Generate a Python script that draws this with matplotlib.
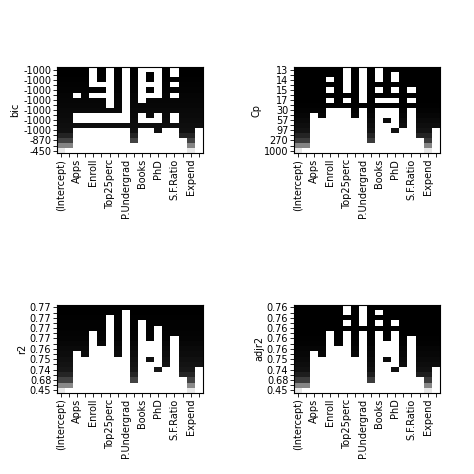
import numpy as np
import matplotlib
matplotlib.use("Agg")
import matplotlib.pyplot as plt

columns = ['(Intercept)', 'PrivateYes', 'Apps', 'Accept', 'Enroll', 'Top10perc',
           'Top25perc', 'F.Undergrad', 'P.Undergrad', 'Room.Board', 'Books',
           'Personal', 'PhD', 'Terminal', 'S.F.Ratio', 'perc.alumni', 'Expend',
           'Grad.Rate']

# best model of each size (1..17), as included predictors
m7 = ['PrivateYes', 'Room.Board', 'Personal', 'Terminal', 'perc.alumni', 'Expend', 'Grad.Rate']
m8 = ['PrivateYes', 'Accept', 'F.Undergrad', 'Room.Board', 'Terminal', 'perc.alumni', 'Expend', 'Grad.Rate']
models = [
    ['Expend'],
    ['PrivateYes', 'Expend'],
    ['PrivateYes', 'Room.Board', 'Expend'],
    ['PrivateYes', 'Room.Board', 'perc.alumni', 'Expend'],
    ['PrivateYes', 'Room.Board', 'PhD', 'perc.alumni', 'Expend'],
    ['PrivateYes', 'Room.Board', 'Terminal', 'perc.alumni', 'Expend', 'Grad.Rate'],
    m7,
    m8,
    m8 + ['Apps'],
    m8 + ['Apps', 'Top10perc'],
    m8 + ['Apps', 'Top10perc', 'Personal'],
    m8 + ['Apps', 'Top10perc', 'Personal', 'S.F.Ratio'],
    m8 + ['Apps', 'Top10perc', 'Personal', 'S.F.Ratio', 'Enroll'],
    m8 + ['Apps', 'Top10perc', 'Personal', 'S.F.Ratio', 'Enroll', 'PhD'],
    m8 + ['Apps', 'Top10perc', 'Personal', 'S.F.Ratio', 'Enroll', 'PhD', 'Books'],
    m8 + ['Apps', 'Top10perc', 'Personal', 'S.F.Ratio', 'Enroll', 'PhD', 'Books', 'Top25perc'],
    columns[1:],
]

bic = [-450, -700, -870, -950, -998, -1008, -1012, -1027, -1033, -1040, -1038,
       -1035, -1030, -1024, -1020, -1016, -1004]
cp = [1000, 580, 270, 170, 97, 75, 57, 42, 30, 17, 15, 14, 13.5, 13, 14.5, 16, 18]
r2 = [0.45, 0.58, 0.68, 0.72, 0.74, 0.745, 0.75, 0.755, 0.758, 0.763, 0.766,
      0.768, 0.769, 0.770, 0.771, 0.772, 0.773]
adjr2 = [0.45, 0.58, 0.68, 0.72, 0.738, 0.743, 0.748, 0.752, 0.755, 0.758, 0.7600,
         0.7605, 0.7610, 0.7615, 0.7618, 0.7612, 0.7608]

panels = [("bic", bic, False), ("Cp", cp, False), ("r2", r2, True), ("adjr2", adjr2, True)]
positions = [[0.12, 0.677, 0.308, 0.181], [0.62, 0.677, 0.308, 0.181],
             [0.12, 0.171, 0.308, 0.186], [0.62, 0.171, 0.308, 0.186]]

def fmt(v):
    return "%g" % float("%.2g" % v)

fig = plt.figure(figsize=(4.74, 4.74), dpi=100)
for (name, vals, desc), pos in zip(panels, positions):
    ax = fig.add_axes(pos)
    vals = np.array(vals, dtype=float)
    order = np.argsort(vals)  # ascending
    if desc:
        order = order[::-1]
    # order[0] is best -> top row
    best, worst = vals[order[0]], vals[order[-1]]
    n = len(vals)
    z = np.ones((n, len(columns)))
    labels = []
    for rank, mi in enumerate(order):
        row = n - 1 - rank
        level = 0.9 * (vals[mi] - best) / (worst - best)
        inc = ['(Intercept)'] + models[mi]
        for j, c in enumerate(columns):
            if c in inc:
                z[row, j] = level
    ax.pcolormesh(np.arange(len(columns) + 1), np.arange(n + 1), z,
                  cmap='gray', vmin=0, vmax=1, shading='flat')
    ax.set_xlim(0, len(columns))
    ax.set_ylim(0, n)
    ax.set_xticks(np.arange(len(columns)) + 0.5)
    ax.set_xticklabels([c if i % 2 == 0 else '' for i, c in enumerate(columns)],
                       rotation=90, fontsize=7)
    ax.set_yticks(np.arange(n) + 0.5)
    ylab = []
    for row in range(n):
        rank = n - 1 - row
        ylab.append(fmt(vals[order[rank]]) if rank % 2 == 0 else '')
    ax.set_yticklabels(ylab, fontsize=7)
    ax.tick_params(length=3, width=0.6, pad=1)
    ax.set_ylabel(name, fontsize=7, labelpad=2)
    for s in ax.spines.values():
        s.set_linewidth(0.8)

fig.savefig("out.png", dpi=100)
